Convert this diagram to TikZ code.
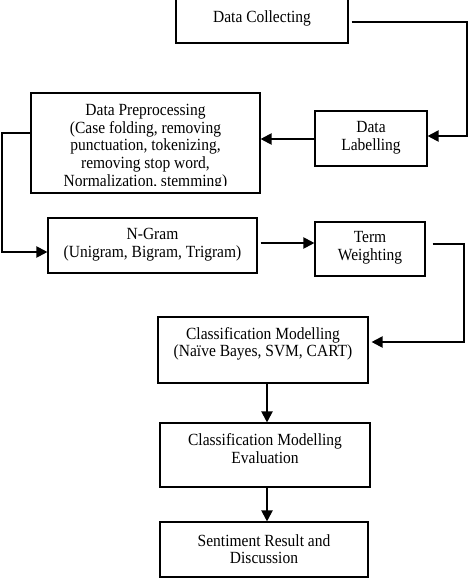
\documentclass[tikz,border=0pt]{standalone}
\usepackage{fontspec}
\setmainfont{Liberation Serif}
\usetikzlibrary{arrows.meta}
\begin{document}
\begin{tikzpicture}[x=1pt,y=1pt,
  box/.style={draw=black,line width=1.1pt,inner sep=0pt,fill=white},
  txt/.style={align=center,inner sep=0pt,yscale=1.1,font=\fontsize{15.5}{16}\selectfont},
  arr/.style={line width=2pt,-{Triangle[length=11pt,width=11pt]}}]
\useasboundingbox (0,0) rectangle (474,-578);
% boxes
\node[box,minimum width=172,minimum height=58] (collect) at (262,-14) {};
\node[txt] (collectt) at (262,-18) {Data Collecting};
\node[box,minimum width=112,minimum height=55] (label) at (371,-138.5) {};
\node[txt] (labelt) at (371,-137.5) {Data\\Labelling};
\node[box,minimum width=229,minimum height=100] (pre) at (145.5,-143) {};
\begin{scope}
\clip (31,-93) rectangle (260,-185);
\node[txt] (pret) at (145.5,-147) {Data Preprocessing\\(Case folding, removing\\punctuation, tokenizing,\\removing stop word,\\Normalization, stemming)};
\end{scope}
\node[box,minimum width=209,minimum height=55] (ngram) at (152.5,-245.5) {};
\node[txt] (ngramt) at (152.5,-244.5) {N-Gram\\(Unigram, Bigram, Trigram)};
\node[box,minimum width=110,minimum height=54] (term) at (370,-249) {};
\node[txt] (termt) at (370,-248) {Term\\Weighting};
\node[box,minimum width=210,minimum height=66] (cls) at (263,-350) {};
\node[txt] (clst) at (263,-344) {Classification Modelling\\(Na\"ive Bayes, SVM, CART)};
\node[box,minimum width=210,minimum height=64] (eval) at (265,-455) {};
\node[txt] (evalt) at (265,-448.5) {Classification Modelling\\Evaluation};
\node[box,minimum width=208,minimum height=55] (sent) at (264,-549.5) {};
\node[txt] (sentt) at (264,-549) {Sentiment Result and\\Discussion};
% connectors
\draw[arr] ([xshift=3pt,yshift=-8pt]collect.east) -- ++(115,0) |- ([yshift=2.5pt]label.east);
\draw[arr] ([yshift=-0.5pt]label.west) -- ([yshift=-0.5pt]label.west -| pre.east);
\draw[arr] ([yshift=10pt]pre.west) -- ++(-28,0) |- ([yshift=-6.5pt]ngram.west);
\draw[arr] ([xshift=3pt,yshift=2.5pt]ngram.east) -- ([yshift=2.5pt]ngram.east -| term.west);
\draw[arr] ([xshift=7pt,yshift=5pt]term.east) -- ++(31,0) |- ([xshift=3pt,yshift=8pt]cls.east);
\draw[arr] ([xshift=4pt]cls.south) -- ([xshift=4pt]cls.south |- eval.north);
\draw[arr] ([xshift=2pt]eval.south) -- ([xshift=2pt]eval.south |- sent.north);
\end{tikzpicture}
\end{document}
